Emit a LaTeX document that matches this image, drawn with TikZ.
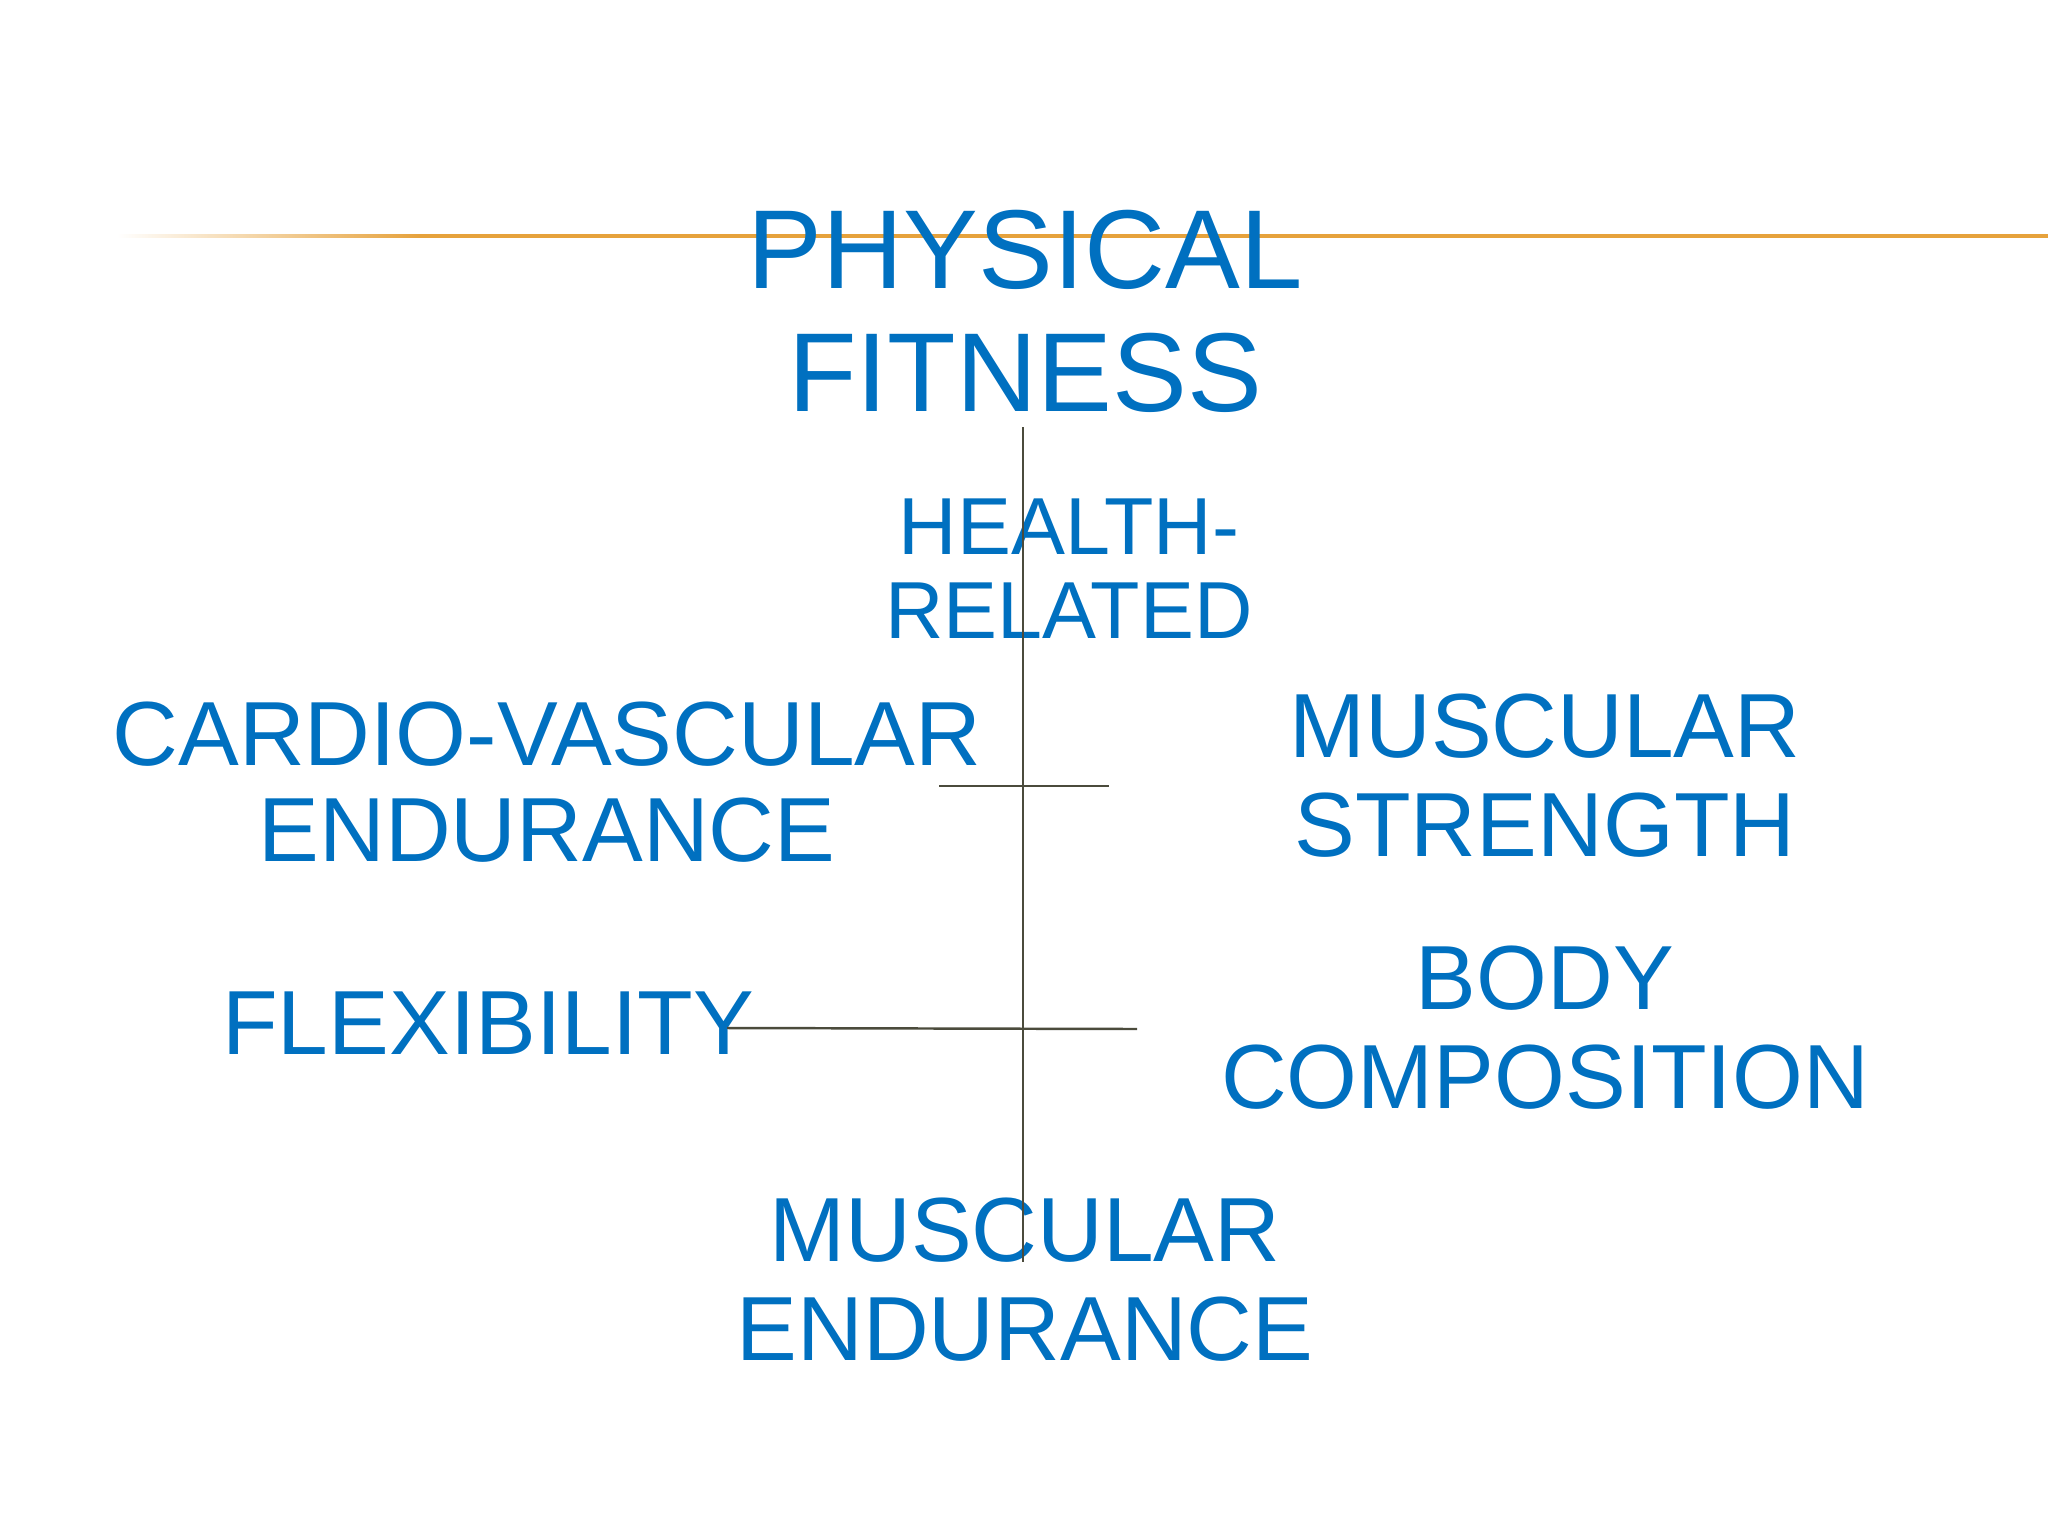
\documentclass[tikz,border=0pt]{standalone}
\usepackage{fontspec}
\setmainfont{Liberation Sans}
\usetikzlibrary{positioning}
\definecolor{fitblue}{HTML}{0070C0}
\definecolor{rule}{HTML}{E6A23C}
\definecolor{stem}{HTML}{4B4B3C}
\tikzstyle{topic}=[text=fitblue, align=center, inner sep=0pt, anchor=south, font=\fontsize{25.9pt}{28.2pt}\selectfont]

\begin{document}
\begin{tikzpicture}[
        x=0.01cm, y=-0.01cm,
        title/.style={topic, font=\fontsize{31.9pt}{35pt}\selectfont},
        branch/.style={topic, font=\fontsize{23pt}{23.9pt}\selectfont},
        line/.style={draw=stem, line width=0.7pt},
      ]
      \useasboundingbox (0,0) rectangle (2048,1536);
      % orange rule behind the title
      \shade[left color=white, right color=rule] (117,234) rectangle (420,237);
      \fill[rule] (420,234) rectangle (2048,238);
      \node (Fitness) [title] at (1025,413) {PHYSICAL\\FITNESS};
      \node (Health) [branch] at (1069,639) {HEALTH-\\RELATED};
      \node (Cardio) [topic, font=\fontsize{25.9pt}{27.3pt}\selectfont] at (547,863) {CARDIO-VASCULAR\\ENDURANCE};
      \node (Strength) [topic] at (1545,858) {MUSCULAR\\STRENGTH};
      \node (Flexibility) [topic] at (488,1055) {FLEXIBILITY};
      \node (Body) [topic] at (1545,1110) {BODY\\COMPOSITION};
      \node (Endurance) [topic] at (1025,1362) {MUSCULAR\\ENDURANCE};
      \coordinate (StemTop) at (1023,427);
      \coordinate (StemEnd) at (1023,1262);
      \coordinate (UpperW) at (939,786);
      \coordinate (UpperE) at (1109,786);
      \coordinate (LowerW) at (727,1028);
      \coordinate (LowerE) at (1137,1029);
      \draw [line] (StemTop) -- (StemEnd);
      \draw [line] (UpperW) -- (UpperE);
      \draw [line] (LowerW) -- (LowerE);
    \end{tikzpicture}
\end{document}
